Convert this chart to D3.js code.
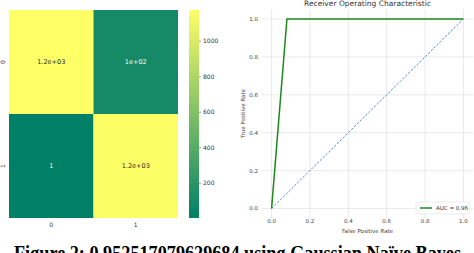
<!DOCTYPE html>
<html>
<head>
<meta charset="utf-8"/>
<title>Confusion matrix and ROC</title>
<script src="https://d3js.org/d3.v7.min.js"></script>
<style>
  body { margin: 0; background: #fff; }
  text { font-family: "DejaVu Sans", sans-serif; }
</style>
</head>
<body>
<svg width="474" height="253"></svg>
<script>
// confusion matrix (rows = true, cols = predicted)
var classes = ["0", "1"];
var matrix = [[1173, 100], [1, 1160]];
var cellLabels = [["1.2e+03", "1e+02"], ["1", "1.2e+03"]];
var cbarTicks = [200, 400, 600, 800, 1000];

// ROC curve
var rocFpr = [0, 0.08, 1];
var rocTpr = [0, 1, 1];
var chanceLine = [0, 1];
var rocTicks = [0, 0.2, 0.4, 0.6, 0.8, 1.0];
var aucLabel = "AUC = 0.96";
var caption = "Figure 2: 0.952517079629684 using Gaussian Naïve Bayes";

var svg = d3.select("svg");

// matplotlib "summer" colormap
function summer(t) {
  return d3.rgb(255 * t, 255 * (0.5 + 0.5 * t), 102);
}
var vmin = 1, vmax = 1173;
var color = function(v) { return summer((v - vmin) / (vmax - vmin)); };

/* ---------- heatmap ---------- */
var hx = d3.scaleBand().domain(classes).range([9, 178]);
var hy = d3.scaleBand().domain(classes).range([10, 218]);

var cells = [];
matrix.forEach(function(row, i) {
  row.forEach(function(v, j) {
    cells.push({r: classes[i], c: classes[j], v: v, lab: cellLabels[i][j]});
  });
});

var hm = svg.append("g");
hm.selectAll("rect").data(cells).enter().append("rect")
  .attr("x", function(d) { return hx(d.c); })
  .attr("y", function(d) { return hy(d.r); })
  .attr("width", hx.bandwidth())
  .attr("height", hy.bandwidth())
  .attr("fill", function(d) { return color(d.v); });

hm.selectAll("text.ann").data(cells).enter().append("text")
  .attr("class", "ann")
  .attr("x", function(d) { return hx(d.c) + hx.bandwidth() / 2; })
  .attr("y", function(d) { return hy(d.r) + hy.bandwidth() / 2; })
  .attr("dy", "0.35em")
  .attr("text-anchor", "middle")
  .attr("font-size", 6.5)
  .attr("fill", function(d) { return d.v > 600 ? "#262626" : "#ffffff"; })
  .text(function(d) { return d.lab; });

// tick labels
hm.selectAll("text.xt").data(classes).enter().append("text")
  .attr("class", "xt")
  .attr("x", function(d) { return hx(d) + hx.bandwidth() / 2; })
  .attr("y", 227)
  .attr("text-anchor", "middle")
  .attr("font-size", 6)
  .attr("fill", "#333")
  .text(function(d) { return d; });

hm.selectAll("text.yt").data(classes).enter().append("text")
  .attr("class", "yt")
  .attr("transform", function(d) {
    return "translate(5," + (hy(d) + hy.bandwidth() / 2) + ") rotate(-90)";
  })
  .attr("text-anchor", "middle")
  .attr("font-size", 6)
  .attr("fill", "#333")
  .text(function(d) { return d; });

/* ---------- colorbar ---------- */
var cy = d3.scaleLinear().domain([vmin, vmax]).range([218, 10]);
var grad = svg.append("defs").append("linearGradient")
  .attr("id", "cbar").attr("x1", 0).attr("y1", 1).attr("x2", 0).attr("y2", 0);
d3.range(0, 1.01, 0.1).forEach(function(t) {
  grad.append("stop").attr("offset", t).attr("stop-color", summer(t));
});
svg.append("rect")
  .attr("x", 189).attr("y", 10).attr("width", 10).attr("height", 208)
  .attr("fill", "url(#cbar)");

var cbAxis = svg.append("g")
  .attr("transform", "translate(199,0)")
  .call(d3.axisRight(cy).tickValues(cbarTicks).tickFormat(d3.format("d"))
    .tickSize(2).tickPadding(2));
cbAxis.select(".domain").remove();
cbAxis.selectAll("line").attr("stroke", "#555").attr("stroke-width", 0.6);
cbAxis.selectAll("text").attr("font-size", 6).attr("fill", "#333")
  .style("font-family", "DejaVu Sans, sans-serif");

/* ---------- ROC ---------- */
var rx = d3.scaleLinear().domain([-0.05, 1.05]).range([262, 473]);
var ry = d3.scaleLinear().domain([-0.05, 1.05]).range([218, 9.5]);

var roc = svg.append("g");
// grid
roc.selectAll("line.gx").data(rocTicks).enter().append("line")
  .attr("x1", function(d) { return rx(d); }).attr("x2", function(d) { return rx(d); })
  .attr("y1", ry.range()[0]).attr("y2", ry.range()[1])
  .attr("stroke", "#e3e3e3").attr("stroke-width", 0.8);
roc.selectAll("line.gy").data(rocTicks).enter().append("line")
  .attr("y1", function(d) { return ry(d); }).attr("y2", function(d) { return ry(d); })
  .attr("x1", rx.range()[0]).attr("x2", rx.range()[1])
  .attr("stroke", "#e3e3e3").attr("stroke-width", 0.8);

// tick labels
roc.selectAll("text.rxt").data(rocTicks).enter().append("text")
  .attr("x", function(d) { return rx(d); })
  .attr("y", 222.5)
  .attr("text-anchor", "middle")
  .attr("font-size", 5.5).attr("fill", "#444")
  .text(function(d) { return d.toFixed(1); });
roc.selectAll("text.ryt").data(rocTicks).enter().append("text")
  .attr("x", 258)
  .attr("y", function(d) { return ry(d); })
  .attr("dy", "0.35em")
  .attr("text-anchor", "end")
  .attr("font-size", 5.5).attr("fill", "#444")
  .text(function(d) { return d.toFixed(1); });

// axis labels and title
roc.append("text")
  .attr("x", 367.5).attr("y", 233)
  .attr("text-anchor", "middle").attr("font-size", 5.5).attr("fill", "#444")
  .text("False Positive Rate");
roc.append("text")
  .attr("transform", "translate(245," + 113.5 + ") rotate(-90)")
  .attr("text-anchor", "middle").attr("font-size", 5.5).attr("fill", "#444")
  .text("True Positive Rate");
roc.append("text")
  .attr("x", 367.5).attr("y", 6)
  .attr("text-anchor", "middle").attr("font-size", 7.5).attr("fill", "#333")
  .text("Receiver Operating Characteristic");

// lines
var line = d3.line()
  .x(function(d) { return rx(d[0]); })
  .y(function(d) { return ry(d[1]); });
roc.append("path")
  .datum(chanceLine.map(function(v) { return [v, v]; }))
  .attr("d", line).attr("fill", "none")
  .attr("stroke", "#1f77b4").attr("stroke-width", 0.8)
  .attr("stroke-dasharray", "2.5,1.5");
roc.append("path")
  .datum(rocFpr.map(function(v, i) { return [v, rocTpr[i]]; }))
  .attr("d", line).attr("fill", "none")
  .attr("stroke", "#1a8a1a").attr("stroke-width", 1.5);

// legend
var lg = roc.append("g").attr("transform", "translate(416,202)");
lg.append("rect").attr("width", 53).attr("height", 12).attr("rx", 1.5)
  .attr("fill", "#fff").attr("stroke", "#dcdcdc").attr("stroke-width", 0.6);
lg.append("line").attr("x1", 4).attr("x2", 16).attr("y1", 6).attr("y2", 6)
  .attr("stroke", "#1a8a1a").attr("stroke-width", 1.5);
lg.append("text").attr("x", 20).attr("y", 6).attr("dy", "0.35em")
  .attr("font-size", 5.5).attr("fill", "#333").text(aucLabel);

/* ---------- caption ---------- */
svg.append("text")
  .attr("x", 14).attr("y", 260)
  .attr("font-size", 22)
  .attr("font-weight", "bold")
  .attr("textLength", 447)
  .attr("lengthAdjust", "spacingAndGlyphs")
  .style("font-family", "'Liberation Serif', 'Times New Roman', serif")
  .text(caption);
</script>
</body>
</html>
